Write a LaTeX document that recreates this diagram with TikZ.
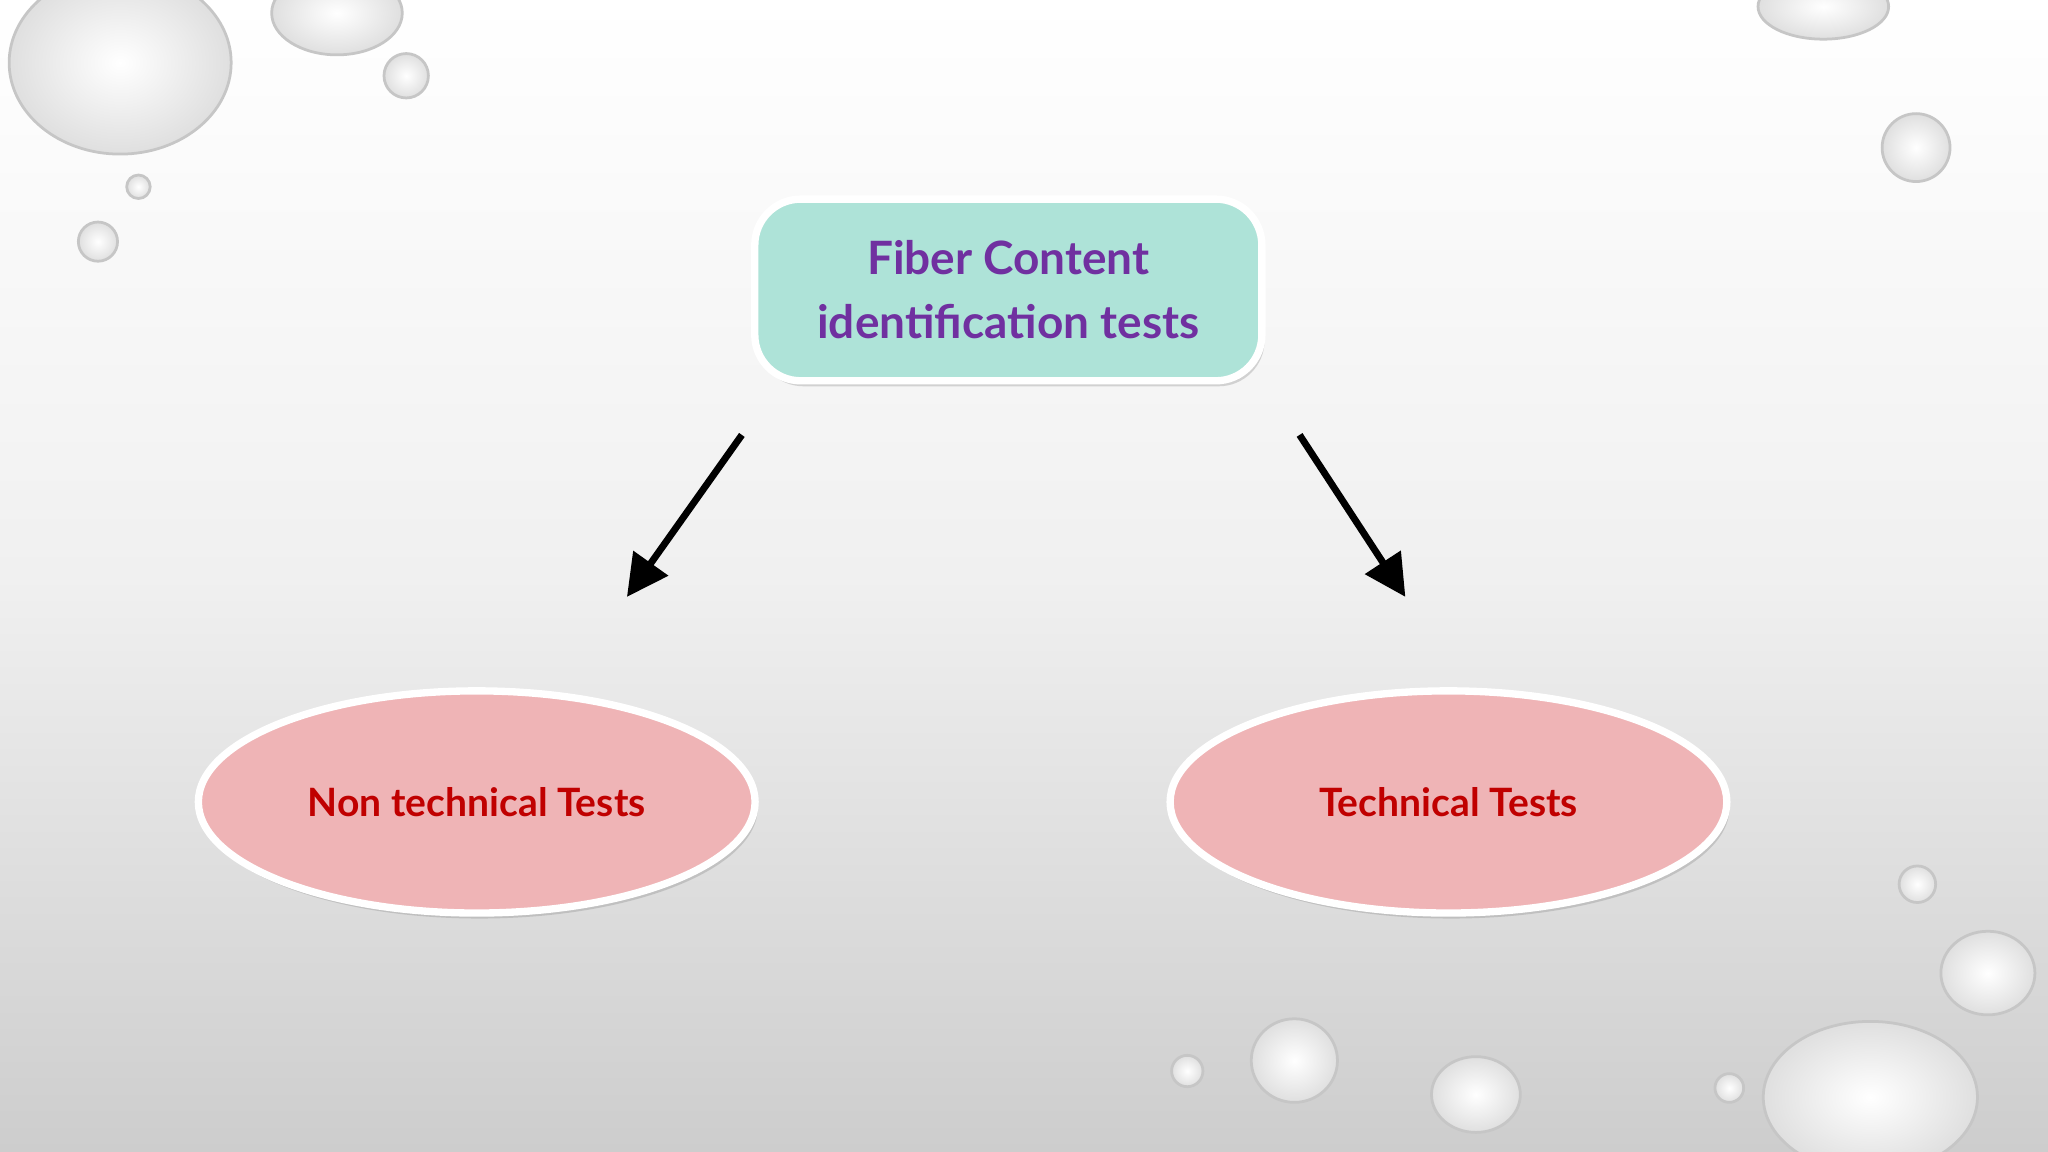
\documentclass[tikz,border=0pt]{standalone}
\usepackage{fontspec}
\setmainfont{Lato}
\usetikzlibrary{shapes.geometric,arrows.meta,shadows}
\begin{document}
\begin{tikzpicture}[x=0.01cm,y=-0.01cm,
  topbox/.style={draw=white,line width=1.6pt,fill={rgb,255:red,174;green,227;blue,216},rounded corners=10pt,minimum width=3.88cm,minimum height=1.39cm,align=center,font=\bfseries\fontsize{10}{14}\selectfont,text={rgb,255:red,112;green,48;blue,160},drop shadow={opacity=0.3,shadow xshift=0.6pt,shadow yshift=-1.2pt}},
  oval/.style={ellipse,draw=white,line width=1.6pt,fill={rgb,255:red,239;green,180;blue,182},minimum width=4.26cm,minimum height=1.70cm,inner sep=0pt,font=\bfseries\fontsize{8.5}{11}\selectfont,text={rgb,255:red,192;green,0;blue,0},drop shadow={opacity=0.3,shadow xshift=0.6pt,shadow yshift=-1.2pt}},
  arr/.style={line width=1.5pt,-{Triangle[length=9pt,width=9pt]}},
  drop/.style={draw=gray!45,line width=0.6pt,inner color=white,outer color=gray!25}]
\shade[top color=white,bottom color={rgb,255:red,205;green,205;blue,205},middle color={rgb,255:red,240;green,240;blue,240}] (0,0) rectangle (1568,882);
\useasboundingbox (0,0) rectangle (1568,882);
% water drops
\shade[drop] (92,48) ellipse (85 and 70);
\shade[drop] (258,10) ellipse (50 and 32);
\shade[drop] (311,58) circle (17);
\shade[drop] (106,143) circle (9);
\shade[drop] (75,185) circle (15);
\shade[drop] (1396,5) ellipse (50 and 25);
\shade[drop] (1467,113) circle (26);
\shade[drop] (1468,677) circle (14);
\shade[drop] (1522,745) ellipse (36 and 32);
\shade[drop] (1432,840) ellipse (82 and 58);
\shade[drop] (1324,833) circle (11);
\shade[drop] (991,812) ellipse (33 and 32);
\shade[drop] (1130,838) ellipse (34 and 29);
\shade[drop] (909,820) circle (12);
% diagram
\node[topbox] (top) at (772,222) {Fiber Content\\identification tests};
\node[oval] (left) at (365,614) {Non technical Tests};
\node[oval] (right) at (1109,614) {Technical Tests};
\coordinate (a1) at (568,333); \coordinate (a2) at (480,457);
\coordinate (b1) at (995,333); \coordinate (b2) at (1076,457);
\draw[arr] (a1) -- (a2);
\draw[arr] (b1) -- (b2);
\end{tikzpicture}
\end{document}
